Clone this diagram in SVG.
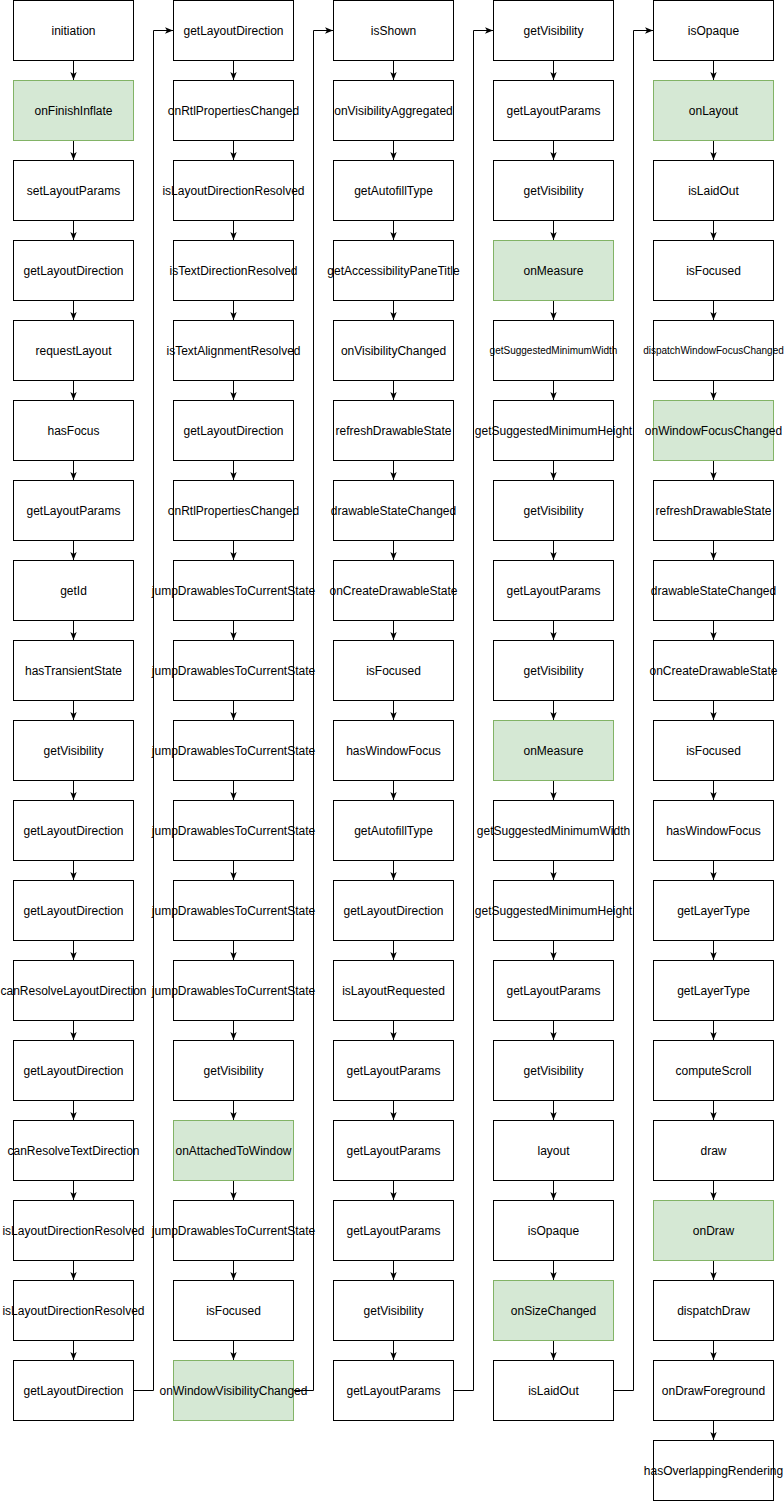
<svg xmlns="http://www.w3.org/2000/svg" width="784" height="1501" viewBox="0 0 784 1501">
<style>
.b rect{fill:#ffffff;stroke:#000000;stroke-width:1}
.g rect{fill:#d5e8d4;stroke:#82b366;stroke-width:1}
text{font-family:"Liberation Sans",Arial,Helvetica,sans-serif;font-size:12px;fill:#000000;text-anchor:middle;dominant-baseline:central}
.s text{font-size:10px}
.c path{fill:none;stroke:#000000;stroke-width:1}
</style>
<defs>
<marker id="ar" viewBox="0 0 10 8" refX="10" refY="4" markerWidth="8" markerHeight="7" markerUnits="userSpaceOnUse" orient="auto">
<path d="M0,0 L10,4 L0,8 L2.5,4 Z" fill="#000000"/>
</marker>
</defs>
<g class="c" id="connectors">
<path d="M73.5,60.5V80" marker-end="url(#ar)"/>
<path d="M73.5,140.5V160" marker-end="url(#ar)"/>
<path d="M73.5,220.5V240" marker-end="url(#ar)"/>
<path d="M73.5,300.5V320" marker-end="url(#ar)"/>
<path d="M73.5,380.5V400" marker-end="url(#ar)"/>
<path d="M73.5,460.5V480" marker-end="url(#ar)"/>
<path d="M73.5,540.5V560" marker-end="url(#ar)"/>
<path d="M73.5,620.5V640" marker-end="url(#ar)"/>
<path d="M73.5,700.5V720" marker-end="url(#ar)"/>
<path d="M73.5,780.5V800" marker-end="url(#ar)"/>
<path d="M73.5,860.5V880" marker-end="url(#ar)"/>
<path d="M73.5,940.5V960" marker-end="url(#ar)"/>
<path d="M73.5,1020.5V1040" marker-end="url(#ar)"/>
<path d="M73.5,1100.5V1120" marker-end="url(#ar)"/>
<path d="M73.5,1180.5V1200" marker-end="url(#ar)"/>
<path d="M73.5,1260.5V1280" marker-end="url(#ar)"/>
<path d="M73.5,1340.5V1360" marker-end="url(#ar)"/>
<path d="M133.5,1390.5H153.5V30.5H173" marker-end="url(#ar)"/>
<path d="M233.5,60.5V80" marker-end="url(#ar)"/>
<path d="M233.5,140.5V160" marker-end="url(#ar)"/>
<path d="M233.5,220.5V240" marker-end="url(#ar)"/>
<path d="M233.5,300.5V320" marker-end="url(#ar)"/>
<path d="M233.5,380.5V400" marker-end="url(#ar)"/>
<path d="M233.5,460.5V480" marker-end="url(#ar)"/>
<path d="M233.5,540.5V560" marker-end="url(#ar)"/>
<path d="M233.5,620.5V640" marker-end="url(#ar)"/>
<path d="M233.5,700.5V720" marker-end="url(#ar)"/>
<path d="M233.5,780.5V800" marker-end="url(#ar)"/>
<path d="M233.5,860.5V880" marker-end="url(#ar)"/>
<path d="M233.5,940.5V960" marker-end="url(#ar)"/>
<path d="M233.5,1020.5V1040" marker-end="url(#ar)"/>
<path d="M233.5,1100.5V1120" marker-end="url(#ar)"/>
<path d="M233.5,1180.5V1200" marker-end="url(#ar)"/>
<path d="M233.5,1260.5V1280" marker-end="url(#ar)"/>
<path d="M233.5,1340.5V1360" marker-end="url(#ar)"/>
<path d="M293.5,1390.5H313.5V30.5H333" marker-end="url(#ar)"/>
<path d="M393.5,60.5V80" marker-end="url(#ar)"/>
<path d="M393.5,140.5V160" marker-end="url(#ar)"/>
<path d="M393.5,220.5V240" marker-end="url(#ar)"/>
<path d="M393.5,300.5V320" marker-end="url(#ar)"/>
<path d="M393.5,380.5V400" marker-end="url(#ar)"/>
<path d="M393.5,460.5V480" marker-end="url(#ar)"/>
<path d="M393.5,540.5V560" marker-end="url(#ar)"/>
<path d="M393.5,620.5V640" marker-end="url(#ar)"/>
<path d="M393.5,700.5V720" marker-end="url(#ar)"/>
<path d="M393.5,780.5V800" marker-end="url(#ar)"/>
<path d="M393.5,860.5V880" marker-end="url(#ar)"/>
<path d="M393.5,940.5V960" marker-end="url(#ar)"/>
<path d="M393.5,1020.5V1040" marker-end="url(#ar)"/>
<path d="M393.5,1100.5V1120" marker-end="url(#ar)"/>
<path d="M393.5,1180.5V1200" marker-end="url(#ar)"/>
<path d="M393.5,1260.5V1280" marker-end="url(#ar)"/>
<path d="M393.5,1340.5V1360" marker-end="url(#ar)"/>
<path d="M453.5,1390.5H473.5V30.5H493" marker-end="url(#ar)"/>
<path d="M553.5,60.5V80" marker-end="url(#ar)"/>
<path d="M553.5,140.5V160" marker-end="url(#ar)"/>
<path d="M553.5,220.5V240" marker-end="url(#ar)"/>
<path d="M553.5,300.5V320" marker-end="url(#ar)"/>
<path d="M553.5,380.5V400" marker-end="url(#ar)"/>
<path d="M553.5,460.5V480" marker-end="url(#ar)"/>
<path d="M553.5,540.5V560" marker-end="url(#ar)"/>
<path d="M553.5,620.5V640" marker-end="url(#ar)"/>
<path d="M553.5,700.5V720" marker-end="url(#ar)"/>
<path d="M553.5,780.5V800" marker-end="url(#ar)"/>
<path d="M553.5,860.5V880" marker-end="url(#ar)"/>
<path d="M553.5,940.5V960" marker-end="url(#ar)"/>
<path d="M553.5,1020.5V1040" marker-end="url(#ar)"/>
<path d="M553.5,1100.5V1120" marker-end="url(#ar)"/>
<path d="M553.5,1180.5V1200" marker-end="url(#ar)"/>
<path d="M553.5,1260.5V1280" marker-end="url(#ar)"/>
<path d="M553.5,1340.5V1360" marker-end="url(#ar)"/>
<path d="M613.5,1390.5H633.5V30.5H653" marker-end="url(#ar)"/>
<path d="M713.5,60.5V80" marker-end="url(#ar)"/>
<path d="M713.5,140.5V160" marker-end="url(#ar)"/>
<path d="M713.5,220.5V240" marker-end="url(#ar)"/>
<path d="M713.5,300.5V320" marker-end="url(#ar)"/>
<path d="M713.5,380.5V400" marker-end="url(#ar)"/>
<path d="M713.5,460.5V480" marker-end="url(#ar)"/>
<path d="M713.5,540.5V560" marker-end="url(#ar)"/>
<path d="M713.5,620.5V640" marker-end="url(#ar)"/>
<path d="M713.5,700.5V720" marker-end="url(#ar)"/>
<path d="M713.5,780.5V800" marker-end="url(#ar)"/>
<path d="M713.5,860.5V880" marker-end="url(#ar)"/>
<path d="M713.5,940.5V960" marker-end="url(#ar)"/>
<path d="M713.5,1020.5V1040" marker-end="url(#ar)"/>
<path d="M713.5,1100.5V1120" marker-end="url(#ar)"/>
<path d="M713.5,1180.5V1200" marker-end="url(#ar)"/>
<path d="M713.5,1260.5V1280" marker-end="url(#ar)"/>
<path d="M713.5,1340.5V1360" marker-end="url(#ar)"/>
<path d="M713.5,1420.5V1440" marker-end="url(#ar)"/>
</g>
<g id="c1">
<g id="n1_1" class="b"><rect x="13.5" y="0.5" width="120" height="60"/><text x="73.5" y="30.5">initiation</text></g>
<g id="n1_2" class="g"><rect x="13.5" y="80.5" width="120" height="60"/><text x="73.5" y="110.5">onFinishInflate</text></g>
<g id="n1_3" class="b"><rect x="13.5" y="160.5" width="120" height="60"/><text x="73.5" y="190.5">setLayoutParams</text></g>
<g id="n1_4" class="b"><rect x="13.5" y="240.5" width="120" height="60"/><text x="73.5" y="270.5">getLayoutDirection</text></g>
<g id="n1_5" class="b"><rect x="13.5" y="320.5" width="120" height="60"/><text x="73.5" y="350.5">requestLayout</text></g>
<g id="n1_6" class="b"><rect x="13.5" y="400.5" width="120" height="60"/><text x="73.5" y="430.5">hasFocus</text></g>
<g id="n1_7" class="b"><rect x="13.5" y="480.5" width="120" height="60"/><text x="73.5" y="510.5">getLayoutParams</text></g>
<g id="n1_8" class="b"><rect x="13.5" y="560.5" width="120" height="60"/><text x="73.5" y="590.5">getId</text></g>
<g id="n1_9" class="b"><rect x="13.5" y="640.5" width="120" height="60"/><text x="73.5" y="670.5">hasTransientState</text></g>
<g id="n1_10" class="b"><rect x="13.5" y="720.5" width="120" height="60"/><text x="73.5" y="750.5">getVisibility</text></g>
<g id="n1_11" class="b"><rect x="13.5" y="800.5" width="120" height="60"/><text x="73.5" y="830.5">getLayoutDirection</text></g>
<g id="n1_12" class="b"><rect x="13.5" y="880.5" width="120" height="60"/><text x="73.5" y="910.5">getLayoutDirection</text></g>
<g id="n1_13" class="b"><rect x="13.5" y="960.5" width="120" height="60"/><text x="73.5" y="990.5">canResolveLayoutDirection</text></g>
<g id="n1_14" class="b"><rect x="13.5" y="1040.5" width="120" height="60"/><text x="73.5" y="1070.5">getLayoutDirection</text></g>
<g id="n1_15" class="b"><rect x="13.5" y="1120.5" width="120" height="60"/><text x="73.5" y="1150.5">canResolveTextDirection</text></g>
<g id="n1_16" class="b"><rect x="13.5" y="1200.5" width="120" height="60"/><text x="73.5" y="1230.5">isLayoutDirectionResolved</text></g>
<g id="n1_17" class="b"><rect x="13.5" y="1280.5" width="120" height="60"/><text x="73.5" y="1310.5">isLayoutDirectionResolved</text></g>
<g id="n1_18" class="b"><rect x="13.5" y="1360.5" width="120" height="60"/><text x="73.5" y="1390.5">getLayoutDirection</text></g>
</g>
<g id="c2">
<g id="n2_1" class="b"><rect x="173.5" y="0.5" width="120" height="60"/><text x="233.5" y="30.5">getLayoutDirection</text></g>
<g id="n2_2" class="b"><rect x="173.5" y="80.5" width="120" height="60"/><text x="233.5" y="110.5">onRtlPropertiesChanged</text></g>
<g id="n2_3" class="b"><rect x="173.5" y="160.5" width="120" height="60"/><text x="233.5" y="190.5">isLayoutDirectionResolved</text></g>
<g id="n2_4" class="b"><rect x="173.5" y="240.5" width="120" height="60"/><text x="233.5" y="270.5">isTextDirectionResolved</text></g>
<g id="n2_5" class="b"><rect x="173.5" y="320.5" width="120" height="60"/><text x="233.5" y="350.5">isTextAlignmentResolved</text></g>
<g id="n2_6" class="b"><rect x="173.5" y="400.5" width="120" height="60"/><text x="233.5" y="430.5">getLayoutDirection</text></g>
<g id="n2_7" class="b"><rect x="173.5" y="480.5" width="120" height="60"/><text x="233.5" y="510.5">onRtlPropertiesChanged</text></g>
<g id="n2_8" class="b"><rect x="173.5" y="560.5" width="120" height="60"/><text x="233.5" y="590.5">jumpDrawablesToCurrentState</text></g>
<g id="n2_9" class="b"><rect x="173.5" y="640.5" width="120" height="60"/><text x="233.5" y="670.5">jumpDrawablesToCurrentState</text></g>
<g id="n2_10" class="b"><rect x="173.5" y="720.5" width="120" height="60"/><text x="233.5" y="750.5">jumpDrawablesToCurrentState</text></g>
<g id="n2_11" class="b"><rect x="173.5" y="800.5" width="120" height="60"/><text x="233.5" y="830.5">jumpDrawablesToCurrentState</text></g>
<g id="n2_12" class="b"><rect x="173.5" y="880.5" width="120" height="60"/><text x="233.5" y="910.5">jumpDrawablesToCurrentState</text></g>
<g id="n2_13" class="b"><rect x="173.5" y="960.5" width="120" height="60"/><text x="233.5" y="990.5">jumpDrawablesToCurrentState</text></g>
<g id="n2_14" class="b"><rect x="173.5" y="1040.5" width="120" height="60"/><text x="233.5" y="1070.5">getVisibility</text></g>
<g id="n2_15" class="g"><rect x="173.5" y="1120.5" width="120" height="60"/><text x="233.5" y="1150.5">onAttachedToWindow</text></g>
<g id="n2_16" class="b"><rect x="173.5" y="1200.5" width="120" height="60"/><text x="233.5" y="1230.5">jumpDrawablesToCurrentState</text></g>
<g id="n2_17" class="b"><rect x="173.5" y="1280.5" width="120" height="60"/><text x="233.5" y="1310.5">isFocused</text></g>
<g id="n2_18" class="g"><rect x="173.5" y="1360.5" width="120" height="60"/><text x="233.5" y="1390.5">onWindowVisibilityChanged</text></g>
</g>
<g id="c3">
<g id="n3_1" class="b"><rect x="333.5" y="0.5" width="120" height="60"/><text x="393.5" y="30.5">isShown</text></g>
<g id="n3_2" class="b"><rect x="333.5" y="80.5" width="120" height="60"/><text x="393.5" y="110.5">onVisibilityAggregated</text></g>
<g id="n3_3" class="b"><rect x="333.5" y="160.5" width="120" height="60"/><text x="393.5" y="190.5">getAutofillType</text></g>
<g id="n3_4" class="b"><rect x="333.5" y="240.5" width="120" height="60"/><text x="393.5" y="270.5">getAccessibilityPaneTitle</text></g>
<g id="n3_5" class="b"><rect x="333.5" y="320.5" width="120" height="60"/><text x="393.5" y="350.5">onVisibilityChanged</text></g>
<g id="n3_6" class="b"><rect x="333.5" y="400.5" width="120" height="60"/><text x="393.5" y="430.5">refreshDrawableState</text></g>
<g id="n3_7" class="b"><rect x="333.5" y="480.5" width="120" height="60"/><text x="393.5" y="510.5">drawableStateChanged</text></g>
<g id="n3_8" class="b"><rect x="333.5" y="560.5" width="120" height="60"/><text x="393.5" y="590.5">onCreateDrawableState</text></g>
<g id="n3_9" class="b"><rect x="333.5" y="640.5" width="120" height="60"/><text x="393.5" y="670.5">isFocused</text></g>
<g id="n3_10" class="b"><rect x="333.5" y="720.5" width="120" height="60"/><text x="393.5" y="750.5">hasWindowFocus</text></g>
<g id="n3_11" class="b"><rect x="333.5" y="800.5" width="120" height="60"/><text x="393.5" y="830.5">getAutofillType</text></g>
<g id="n3_12" class="b"><rect x="333.5" y="880.5" width="120" height="60"/><text x="393.5" y="910.5">getLayoutDirection</text></g>
<g id="n3_13" class="b"><rect x="333.5" y="960.5" width="120" height="60"/><text x="393.5" y="990.5">isLayoutRequested</text></g>
<g id="n3_14" class="b"><rect x="333.5" y="1040.5" width="120" height="60"/><text x="393.5" y="1070.5">getLayoutParams</text></g>
<g id="n3_15" class="b"><rect x="333.5" y="1120.5" width="120" height="60"/><text x="393.5" y="1150.5">getLayoutParams</text></g>
<g id="n3_16" class="b"><rect x="333.5" y="1200.5" width="120" height="60"/><text x="393.5" y="1230.5">getLayoutParams</text></g>
<g id="n3_17" class="b"><rect x="333.5" y="1280.5" width="120" height="60"/><text x="393.5" y="1310.5">getVisibility</text></g>
<g id="n3_18" class="b"><rect x="333.5" y="1360.5" width="120" height="60"/><text x="393.5" y="1390.5">getLayoutParams</text></g>
</g>
<g id="c4">
<g id="n4_1" class="b"><rect x="493.5" y="0.5" width="120" height="60"/><text x="553.5" y="30.5">getVisibility</text></g>
<g id="n4_2" class="b"><rect x="493.5" y="80.5" width="120" height="60"/><text x="553.5" y="110.5">getLayoutParams</text></g>
<g id="n4_3" class="b"><rect x="493.5" y="160.5" width="120" height="60"/><text x="553.5" y="190.5">getVisibility</text></g>
<g id="n4_4" class="g"><rect x="493.5" y="240.5" width="120" height="60"/><text x="553.5" y="270.5">onMeasure</text></g>
<g id="n4_5" class="b s"><rect x="493.5" y="320.5" width="120" height="60"/><text x="553.5" y="350.5">getSuggestedMinimumWidth</text></g>
<g id="n4_6" class="b"><rect x="493.5" y="400.5" width="120" height="60"/><text x="553.5" y="430.5">getSuggestedMinimumHeight</text></g>
<g id="n4_7" class="b"><rect x="493.5" y="480.5" width="120" height="60"/><text x="553.5" y="510.5">getVisibility</text></g>
<g id="n4_8" class="b"><rect x="493.5" y="560.5" width="120" height="60"/><text x="553.5" y="590.5">getLayoutParams</text></g>
<g id="n4_9" class="b"><rect x="493.5" y="640.5" width="120" height="60"/><text x="553.5" y="670.5">getVisibility</text></g>
<g id="n4_10" class="g"><rect x="493.5" y="720.5" width="120" height="60"/><text x="553.5" y="750.5">onMeasure</text></g>
<g id="n4_11" class="b"><rect x="493.5" y="800.5" width="120" height="60"/><text x="553.5" y="830.5">getSuggestedMinimumWidth</text></g>
<g id="n4_12" class="b"><rect x="493.5" y="880.5" width="120" height="60"/><text x="553.5" y="910.5">getSuggestedMinimumHeight</text></g>
<g id="n4_13" class="b"><rect x="493.5" y="960.5" width="120" height="60"/><text x="553.5" y="990.5">getLayoutParams</text></g>
<g id="n4_14" class="b"><rect x="493.5" y="1040.5" width="120" height="60"/><text x="553.5" y="1070.5">getVisibility</text></g>
<g id="n4_15" class="b"><rect x="493.5" y="1120.5" width="120" height="60"/><text x="553.5" y="1150.5">layout</text></g>
<g id="n4_16" class="b"><rect x="493.5" y="1200.5" width="120" height="60"/><text x="553.5" y="1230.5">isOpaque</text></g>
<g id="n4_17" class="g"><rect x="493.5" y="1280.5" width="120" height="60"/><text x="553.5" y="1310.5">onSizeChanged</text></g>
<g id="n4_18" class="b"><rect x="493.5" y="1360.5" width="120" height="60"/><text x="553.5" y="1390.5">isLaidOut</text></g>
</g>
<g id="c5">
<g id="n5_1" class="b"><rect x="653.5" y="0.5" width="120" height="60"/><text x="713.5" y="30.5">isOpaque</text></g>
<g id="n5_2" class="g"><rect x="653.5" y="80.5" width="120" height="60"/><text x="713.5" y="110.5">onLayout</text></g>
<g id="n5_3" class="b"><rect x="653.5" y="160.5" width="120" height="60"/><text x="713.5" y="190.5">isLaidOut</text></g>
<g id="n5_4" class="b"><rect x="653.5" y="240.5" width="120" height="60"/><text x="713.5" y="270.5">isFocused</text></g>
<g id="n5_5" class="b s"><rect x="653.5" y="320.5" width="120" height="60"/><text x="713.5" y="350.5">dispatchWindowFocusChanged</text></g>
<g id="n5_6" class="g"><rect x="653.5" y="400.5" width="120" height="60"/><text x="713.5" y="430.5">onWindowFocusChanged</text></g>
<g id="n5_7" class="b"><rect x="653.5" y="480.5" width="120" height="60"/><text x="713.5" y="510.5">refreshDrawableState</text></g>
<g id="n5_8" class="b"><rect x="653.5" y="560.5" width="120" height="60"/><text x="713.5" y="590.5">drawableStateChanged</text></g>
<g id="n5_9" class="b"><rect x="653.5" y="640.5" width="120" height="60"/><text x="713.5" y="670.5">onCreateDrawableState</text></g>
<g id="n5_10" class="b"><rect x="653.5" y="720.5" width="120" height="60"/><text x="713.5" y="750.5">isFocused</text></g>
<g id="n5_11" class="b"><rect x="653.5" y="800.5" width="120" height="60"/><text x="713.5" y="830.5">hasWindowFocus</text></g>
<g id="n5_12" class="b"><rect x="653.5" y="880.5" width="120" height="60"/><text x="713.5" y="910.5">getLayerType</text></g>
<g id="n5_13" class="b"><rect x="653.5" y="960.5" width="120" height="60"/><text x="713.5" y="990.5">getLayerType</text></g>
<g id="n5_14" class="b"><rect x="653.5" y="1040.5" width="120" height="60"/><text x="713.5" y="1070.5">computeScroll</text></g>
<g id="n5_15" class="b"><rect x="653.5" y="1120.5" width="120" height="60"/><text x="713.5" y="1150.5">draw</text></g>
<g id="n5_16" class="g"><rect x="653.5" y="1200.5" width="120" height="60"/><text x="713.5" y="1230.5">onDraw</text></g>
<g id="n5_17" class="b"><rect x="653.5" y="1280.5" width="120" height="60"/><text x="713.5" y="1310.5">dispatchDraw</text></g>
<g id="n5_18" class="b"><rect x="653.5" y="1360.5" width="120" height="60"/><text x="713.5" y="1390.5">onDrawForeground</text></g>
<g id="n5_19" class="b"><rect x="653.5" y="1440.5" width="120" height="60"/><text x="713.5" y="1470.5">hasOverlappingRendering</text></g>
</g>
</svg>
